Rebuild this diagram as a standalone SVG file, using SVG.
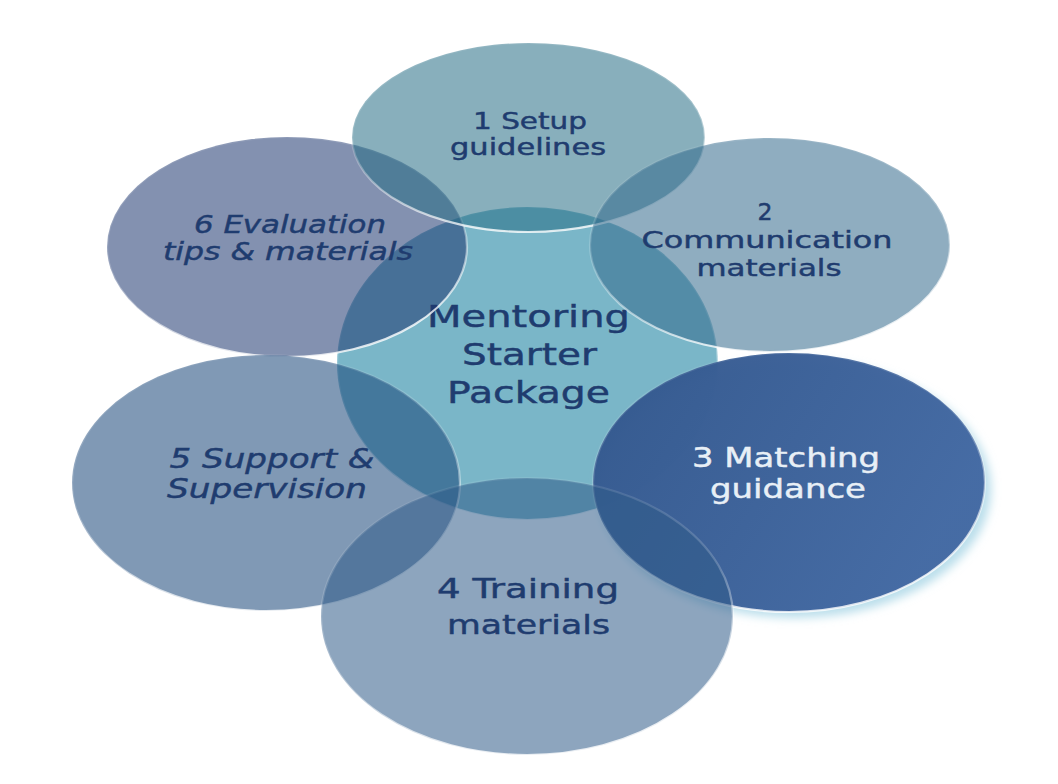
<svg xmlns="http://www.w3.org/2000/svg" width="1058" height="784" viewBox="0 0 1058 784">
<style>
  .lbl { font-family: "DejaVu Sans", Verdana, sans-serif; fill: #1f3c6f; stroke: #1f3c6f; stroke-width: 0.45; text-anchor: middle; }
  .it { font-style: italic; }
  .light { fill: #e8eff6; stroke: #e8eff6; }
  .disc { stroke: url(#rim); stroke-width: 2.2; }
</style>
<defs>
  <linearGradient id="rim" x1="0" y1="0" x2="0.3" y2="1">
    <stop offset="0" stop-color="#ffffff" stop-opacity="0.05"/>
    <stop offset="0.55" stop-color="#ffffff" stop-opacity="0.2"/>
    <stop offset="1" stop-color="#ffffff" stop-opacity="0.8"/>
  </linearGradient>
  <linearGradient id="g3" x1="0" y1="0" x2="1" y2="0.4">
    <stop offset="0" stop-color="#32568c"/>
    <stop offset="1" stop-color="#4268a2"/>
  </linearGradient>
  <filter id="blur" x="-20%" y="-20%" width="140%" height="140%">
    <feGaussianBlur stdDeviation="5"/>
  </filter>
</defs>
<rect width="1058" height="784" fill="#ffffff"/>

<g id="node-center">
  <ellipse class="disc" cx="527.5" cy="363.5" rx="190.5" ry="156.5" fill="#0d7a9b" fill-opacity="0.55"/>
  <text class="lbl" font-size="30" x="528.5" y="327" textLength="203" lengthAdjust="spacingAndGlyphs">Mentoring</text>
  <text class="lbl" font-size="30" x="529.5" y="365" textLength="135" lengthAdjust="spacingAndGlyphs">Starter</text>
  <text class="lbl" font-size="30" x="528.5" y="403" textLength="163" lengthAdjust="spacingAndGlyphs">Package</text>
</g>

<g id="node-6">
  <ellipse class="disc" cx="287" cy="247" rx="180" ry="110" fill="#1d376f" fill-opacity="0.55"/>
  <text class="lbl it" font-size="24" x="290" y="233" textLength="192" lengthAdjust="spacingAndGlyphs">6 Evaluation</text>
  <text class="lbl it" font-size="24" x="288" y="260" textLength="250" lengthAdjust="spacingAndGlyphs">tips &amp; materials</text>
</g>

<g id="node-1">
  <ellipse class="disc" cx="528.5" cy="137.5" rx="176.5" ry="94.5" fill="#276e85" fill-opacity="0.55"/>
  <text class="lbl" font-size="23" x="530" y="129" textLength="114" lengthAdjust="spacingAndGlyphs">1 Setup</text>
  <text class="lbl" font-size="23" x="528" y="155" textLength="156" lengthAdjust="spacingAndGlyphs">guidelines</text>
</g>

<g id="node-2">
  <ellipse class="disc" cx="770" cy="245" rx="180" ry="107" fill="#336a8c" fill-opacity="0.55"/>
  <text class="lbl" font-size="23" x="765" y="220" textLength="15" lengthAdjust="spacingAndGlyphs">2</text>
  <text class="lbl" font-size="23" x="767" y="248" textLength="251" lengthAdjust="spacingAndGlyphs">Communication</text>
  <text class="lbl" font-size="23" x="769" y="276" textLength="145" lengthAdjust="spacingAndGlyphs">materials</text>
</g>

<g id="node-5">
  <ellipse class="disc" cx="266" cy="483" rx="194" ry="128" fill="#184678" fill-opacity="0.55"/>
  <text class="lbl it" font-size="27" x="272" y="468" textLength="205" lengthAdjust="spacingAndGlyphs">5 Support &amp;</text>
  <text class="lbl it" font-size="27" x="267" y="498" textLength="200" lengthAdjust="spacingAndGlyphs">Supervision</text>
</g>

<g id="node-3">
  <ellipse cx="795" cy="489" rx="196" ry="129" fill="#a9d6e6" fill-opacity="0.8" filter="url(#blur)"/>
  <ellipse class="disc" cx="789" cy="482.5" rx="196" ry="129.5" fill="url(#g3)" fill-opacity="0.97"/>
  <text class="lbl light" font-size="27" x="786" y="467" textLength="188" lengthAdjust="spacingAndGlyphs">3 Matching</text>
  <text class="lbl light" font-size="27" x="788" y="498" textLength="156" lengthAdjust="spacingAndGlyphs">guidance</text>
</g>

<g id="node-4">
  <ellipse class="disc" cx="527" cy="616.5" rx="206" ry="138.5" fill="#2f5b88" fill-opacity="0.55"/>
  <text class="lbl" font-size="27" x="528" y="598" textLength="182" lengthAdjust="spacingAndGlyphs">4 Training</text>
  <text class="lbl" font-size="27" x="528.5" y="634" textLength="163" lengthAdjust="spacingAndGlyphs">materials</text>
</g>

<g id="connectors"/>
</svg>
